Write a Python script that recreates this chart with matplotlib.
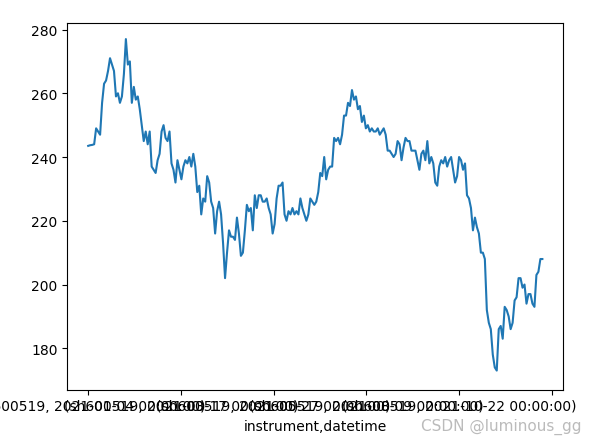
import numpy as np
import matplotlib.pyplot as plt

# 收盘价
close = [243.5, 243.7, 243.8, 244, 249, 248, 247, 257, 263, 264,
         267, 271, 269, 267, 259, 260, 257, 259, 266, 277,
         269, 270, 257, 262, 258, 259, 255, 250, 245, 248,
         244, 248, 237, 236, 235, 239, 241, 248, 250, 246,
         245, 248, 238, 236, 232, 239, 236, 233, 237, 239,
         238, 240, 237, 241, 237, 229, 231, 222, 227, 226,
         234, 232, 226, 224, 216, 223, 226, 222, 213, 202,
         210, 217, 215, 215, 214, 221, 216, 209, 210, 217,
         225, 223, 224, 217, 228, 224, 228, 228, 226, 226,
         227, 224, 222, 216, 219, 227, 231, 231, 232, 222,
         220, 223, 222, 224, 222, 223, 222, 227, 224, 222,
         220, 222, 227, 226, 225, 226, 229, 235, 234, 240,
         233, 236, 237, 237, 246, 245, 246, 244, 247, 253,
         253, 257, 256, 261, 258, 259, 255, 256, 251, 253,
         249, 250, 248, 249, 248, 248, 249, 247, 248, 249,
         247, 242, 242, 241, 240, 241, 245, 244, 239, 243,
         246, 245, 245, 242, 242, 242, 239, 236, 241, 242,
         239, 245, 238, 240, 238, 232, 231, 237, 239, 238,
         240, 237, 239, 240, 236, 232, 234, 240, 239, 236,
         238, 228, 227, 224, 217, 221, 218, 216, 210, 210,
         208, 192, 188, 186, 178, 174, 173, 186, 187, 183,
         193, 192, 190, 186, 188, 195, 196, 202, 202, 199,
         200, 194, 197, 197, 194, 193, 203, 204, 208, 208]
tick_labels = ['(sh600519, 2021-01-04 00:00:00)', '(sh600519, 2021-03-17 00:00:00)',
               '(sh600519, 2021-05-27 00:00:00)', '(sh600519, 2021-08-09 00:00:00)',
               '(sh600519, 2021-10-22 00:00:00)', '(sh600519, 2022-09-23 00:00:00)']

n = len(close)
x = np.arange(n)
step = (n - 1) / 4.9

fig, ax = plt.subplots(figsize=(5.96, 4.39), dpi=100)
ax.plot(x, close, color='#1f77b4')
ticks = [i * step for i in range(6)]
ax.set_xticks(ticks)
ax.set_xticklabels(tick_labels[:5] + [''])
ax.set_xticklabels(tick_labels[:5] + [''])
ax.set_xlim(-0.045 * (ticks[5]), ticks[5] + 0.025 * ticks[5])
ax.set_ylim(167, 282)
ax.set_xlabel('instrument,datetime')
fig.subplots_adjust(left=0.113, right=0.945, top=0.945, bottom=0.11)
fig.text(0.975, 0.01, 'CSDN @luminous_gg', color='#bbbbbb', fontsize=11, ha='right', va='bottom')
fig.savefig('out.png')
